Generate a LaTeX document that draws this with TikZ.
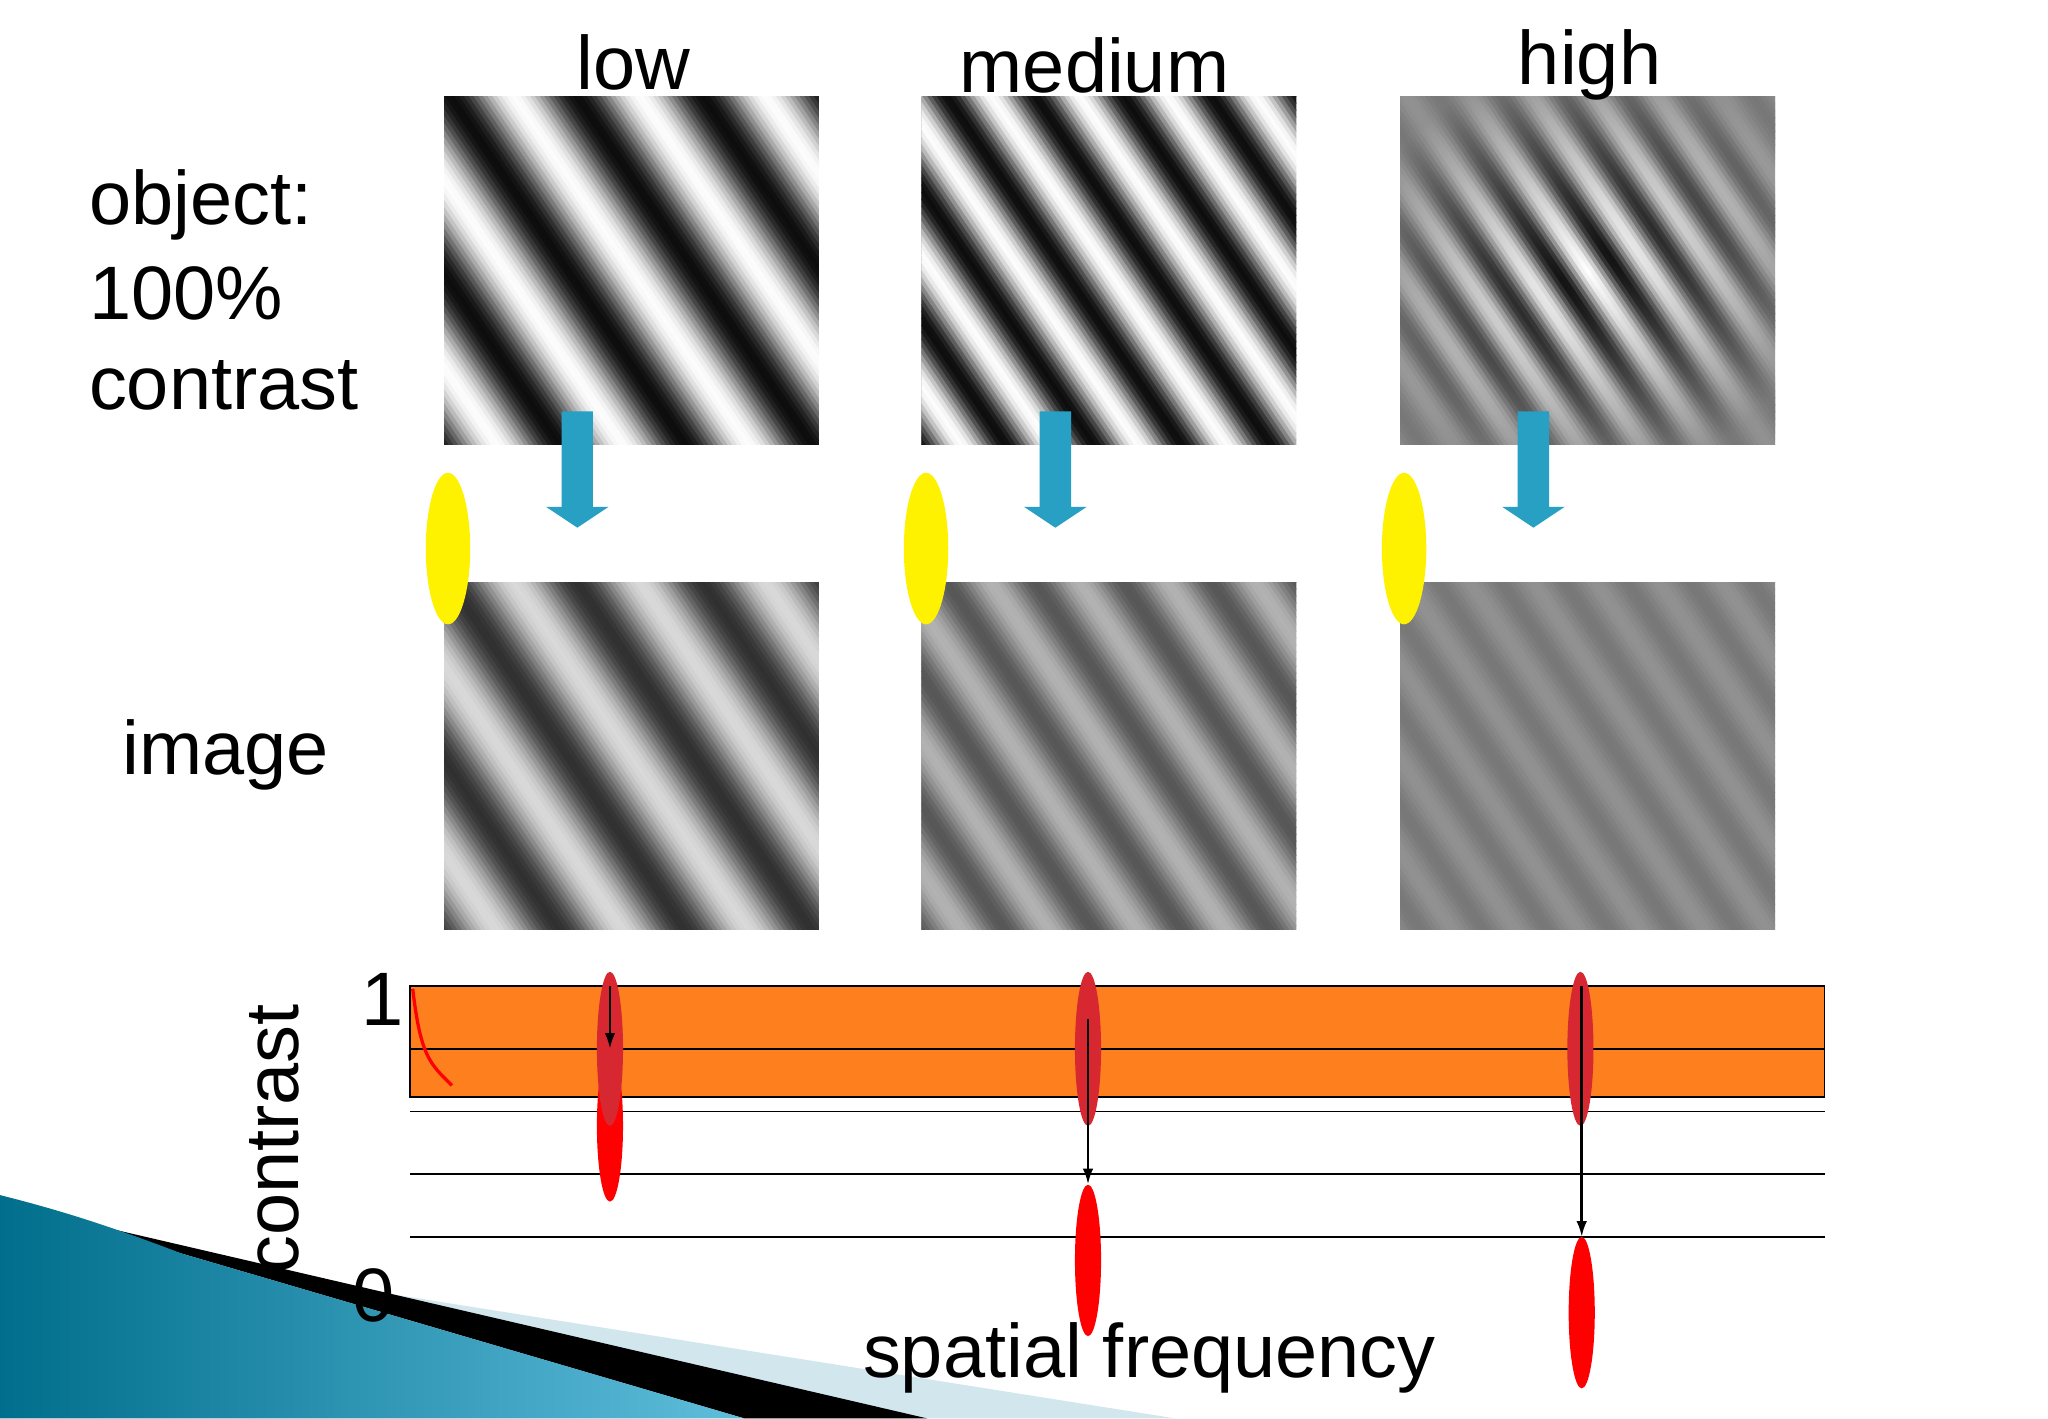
\documentclass[tikz,border=0pt]{standalone}
\usepackage{fontspec}
\setmainfont{Liberation Sans}
\usetikzlibrary{fadings,shapes.geometric,arrows.meta}
\definecolor{paleblue}{RGB}{210,230,238}
\definecolor{tealdark}{RGB}{0,110,140}
\definecolor{teallight}{RGB}{95,190,220}
\definecolor{arrowcyan}{RGB}{40,160,195}
\definecolor{plotorange}{RGB}{253,127,30}
\definecolor{darkred}{RGB}{215,40,50}
\tikzset{
  lbl/.style={font=\fontsize{58}{64}\selectfont, inner sep=0pt},
  cyanarrow/.style={fill=arrowcyan, draw=none},
  lens/.style={ellipse, fill=yellow, minimum width=34pt, minimum height=116pt, inner sep=0pt},
  hline/.style={black, line width=1.2pt},
  redell/.style={ellipse, fill=red, minimum width=20pt, minimum height=116pt, inner sep=0pt},
  darkell/.style={ellipse, fill=darkred, minimum width=20pt, minimum height=118pt, inner sep=0pt},
  blk/.style={-{Latex[length=12pt,width=8pt]}, line width=2pt},
}
\begin{tikzfadingfrompicture}[name=edgefade]
  \shade[inner color=transparent!100, outer color=transparent!10] (-1,-1) rectangle (1,1);
\end{tikzfadingfrompicture}
\newcommand{\grating}[4]{% cx cy period amplitude
  \begin{scope}
    \clip (#1-143.5,#2-133) rectangle (#1+143.5,#2+133);
    \fill[black!48] (#1-143.5,#2-133) rectangle (#1+143.5,#2+133);
    \begin{scope}[shift={(#1,#2)}, rotate=34]
      \pgfmathsetmacro\kk{360/#3}
      \foreach \t in {-240,-237,...,240}{
        \pgfmathsetmacro\g{0.52+#4*cos(\kk*\t)}
        \definecolor{tmpc}{gray}{\g}
        \draw[tmpc, line width=3.4pt] (\t,-260) -- (\t,260);
      }
    \end{scope}
  \end{scope}}
\begin{document}
\begin{tikzpicture}[x=1pt,y=-1pt]
\useasboundingbox (0,0) rectangle (1568,1086);
\fill[white] (0,0) rectangle (1568,1086);
% decoration
\fill[paleblue] (200,975) -- (900,1086) -- (560,1086) -- cycle;
\fill[black] (60,935) -- (710,1086) -- (570,1086) -- (140,960) -- cycle;
\shade[left color=tealdark, right color=teallight] (0,915) .. controls (60,930) and (100,945) .. (140,960) -- (570,1086) -- (0,1086) -- cycle;
% gratings
\grating{483.5}{207}{80}{0.47}
\grating{849}{207}{56}{0.47}
\grating{1215.5}{207}{40}{0.5}
\begin{scope}
\clip (1072,74) rectangle (1359,340);
\fill[black!48, path fading=edgefade, fit fading=true] (1062,64) rectangle (1369,350);
\end{scope}
\grating{483.5}{579}{80}{0.33}
\grating{849}{579}{56}{0.18}
\grating{1215.5}{579}{40}{0.05}
% labels
\node[lbl] (low) at (485,48) {low};
\node[lbl] (med) at (838,50) {medium};
\node[lbl] (high) at (1217,50) {high};
\node[lbl, anchor=west] (o1) at (68,157) {object:};
\node[lbl, anchor=west] (o2) at (68,225) {100\%};
\node[lbl, anchor=west] (o3) at (68,295) {contrast};
\node[lbl] (img) at (173,578) {image};
% arrows and lenses
\foreach \x in {442,808,1174}{
  \fill[cyanarrow] (\x-12,315) -- (\x+12,315) -- (\x+12,388) -- (\x+24,388) -- (\x,404) -- (\x-24,388) -- (\x-12,388) -- cycle;
}
\node[lens] (l1) at (343,420) {};
\node[lens] (l2) at (709,420) {};
\node[lens] (l3) at (1075,420) {};
% graph
\fill[plotorange] (314,755) rectangle (1397,840);
\draw[hline] (314,755) rectangle (1397,840);
\foreach \y in {803,851,899,947} \draw[hline] (314,\y) -- (1397,\y);
\draw[red, line width=2.5pt] (316,757) .. controls (322,810) and (330,815) .. (346,831);
% red ellipses
\node[redell] (e1) at (467,862) {};
\node[redell] (e2) at (833,965) {};
\node[redell] (e3) at (1211,1005) {};
\node[darkell] (t1) at (467,803) {};
\node[darkell] (t2) at (833,803) {};
\node[darkell] (t3) at (1210,803) {};
\draw[blk] (467,755) -- (t1.center);
\draw[blk] (833,780) -- (e2.north);
\draw[blk] (1211,755) -- (1211,947);
\node[lbl] (one) at (293,765) {1};
\node[lbl] (zero) at (286,992) {0};
\node[lbl, rotate=90] (ct) at (210,872) {contrast};
\node[lbl] (sf) at (880,1040) {spatial frequency};
\end{tikzpicture}
\end{document}
